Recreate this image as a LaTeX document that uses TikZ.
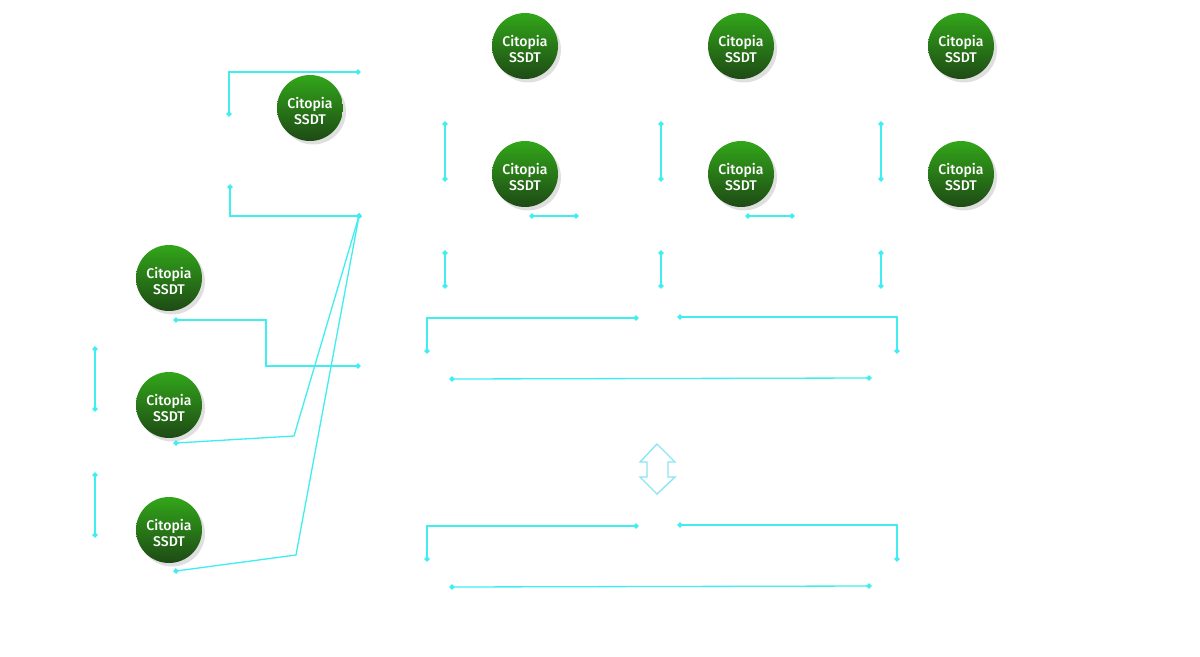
\documentclass[tikz,border=0pt]{standalone}
\usepackage{fontspec}
\setsansfont{Open Sans}
\newfontfamily\chipfont{Fira Sans Medium}
\usetikzlibrary{arrows.meta, shadows}
\definecolor{chiptop}{RGB}{50,166,26}
\definecolor{chipbot}{RGB}{30,74,21}
\definecolor{wire}{RGB}{64,238,240}
\definecolor{swapcyan}{RGB}{140,228,245}

\begin{document}
\begin{tikzpicture}
      [x=.02cm,y=-.02cm
      ,chip/.style={circle,top color=chiptop,bottom color=chipbot,inner sep=0,minimum size=1.32cm
                   ,text=white,align=center,font=\chipfont\fontsize{8}{9.2}\selectfont,text height=19.4pt
                   ,drop shadow={opacity=.25,shadow xshift=.06cm,shadow yshift=-.07cm}}
      ,lin/.style={color=wire,line width=.75pt,{Circle[length=3pt]}-{Circle[length=3pt]}
                  ,shorten <=-1.5pt,shorten >=-1.5pt}]
        \useasboundingbox (0,0) rectangle (1200,656);
        \foreach \n/\x/\y in {t1/525/46,t2/741/46,t3/961/46,m1/525/174,m2/741/174,m3/961/174,
                              c0/310/108,l1/169/278,l2/169/405,l3/169/530}{
          \node[chip] (\n) at (\x,\y) {Citopia\\SSDT};
        }
        \coordinate (hub)  at (359,216);
        \coordinate (topE) at (358,72);
        \coordinate (topW) at (229,114);
        \coordinate (hubW) at (230,187);
        \coordinate (midE) at (358,366);
        \coordinate (l1s)  at (176,320);
        \coordinate (l2s)  at (176,443);
        \coordinate (l2k)  at (294,436);
        \coordinate (l3s)  at (176,571);
        \coordinate (l3k)  at (296,555);
        \draw[lin] (topE) -| (topW);
        \draw[lin] (hubW) |- (hub);
        \draw[lin] (hub) -- (l2k) -- (l2s);
        \draw[lin] (hub) -- (l3k) -- (l3s);
        \draw[lin] (l1s) -- ++(90,0) |- (midE);
        \foreach \i/\y in {1/349,2/475}{
          \coordinate (V\i a) at (95,\y);
          \coordinate (V\i b) at (95,\y+60);
          \draw[lin] (V\i a) -- (V\i b);
        }
        \foreach \i/\x in {1/445,2/661,3/881}{
          \coordinate (G\i a) at (\x,124);
          \coordinate (G\i b) at (\x,179);
          \coordinate (G\i c) at (\x,253);
          \coordinate (G\i d) at (\x,286);
          \draw[lin] (G\i a) -- (G\i b);
          \draw[lin] (G\i c) -- (G\i d);
        }
        \foreach \i/\x in {1/532,2/748}{
          \coordinate (H\i a) at (\x,216);
          \coordinate (H\i b) at (\x+44,216);
          \draw[lin] (H\i a) -- (H\i b);
        }
        \foreach \i/\y in {1/0,2/208}{
          \coordinate (B\i l) at (636,318+\y);
          \coordinate (B\i L) at (427,351+\y);
          \coordinate (B\i r) at (680,317+\y);
          \coordinate (B\i R) at (897,351+\y);
          \coordinate (B\i s) at (452,379+\y);
          \coordinate (B\i e) at (869,378+\y);
          \draw[lin] (B\i l) -| (B\i L);
          \draw[lin] (B\i r) -| (B\i R);
          \draw[lin] (B\i s) -- (B\i e);
        }
        \draw[draw=swapcyan,line width=.8pt,line join=miter]
          (657,444) -- (675,462) -- (668,462) -- (668,477) -- (675,477) -- (657,494)
          -- (640,477) -- (647,477) -- (647,462) -- (640,462) -- cycle;
      \end{tikzpicture}
\end{document}
